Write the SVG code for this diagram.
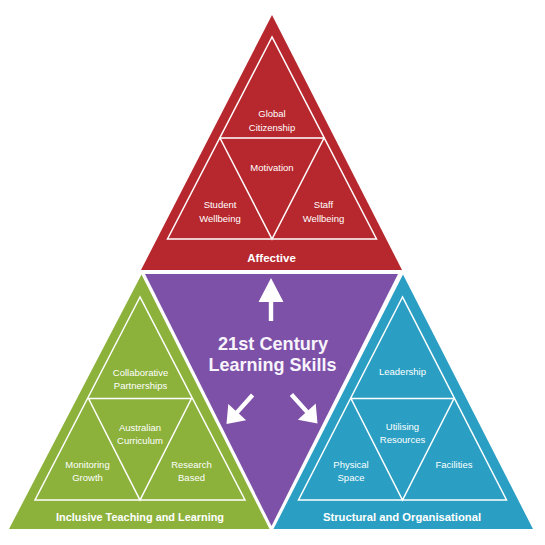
<svg xmlns="http://www.w3.org/2000/svg" width="545" height="545" viewBox="0 0 545 545">
<defs>
<style>
.lbl{font-family:"Liberation Sans",Arial,sans-serif;font-size:9.5px;fill:#ffffff;text-anchor:middle}
.ttl{font-family:"Liberation Sans",Arial,sans-serif;font-size:11px;font-weight:bold;fill:#ffffff;text-anchor:middle}
.big{font-family:"Liberation Sans",Arial,sans-serif;font-size:18.5px;font-weight:bold;fill:#f8f4fc;text-anchor:middle}
.inner{fill:none;stroke:#ffffff;stroke-width:1.5;stroke-linejoin:miter}
.arrow{fill:#ffffff}
</style>
<path id="upArrow" d="M0,0 L12.5,24 L2.2,24 L2.2,43 L-2.2,43 L-2.2,24 L-12.5,24 Z"/>
<path id="diagArrow" d="M0,0 L12,16 L2.2,16 L2.2,39 L-2.2,39 L-2.2,16 L-12,16 Z"/>
</defs>
<rect width="545" height="545" fill="#ffffff"/>

<g id="affective">
<polygon points="272,15 141,270 402,270" fill="#b7282e"/>
<path class="inner" d="M272,37 L167.5,239 L376.5,239 Z M220,138 L324,138 L272,239 Z"/>
<text class="lbl" x="272" y="117">Global</text>
<text class="lbl" x="272" y="130.5">Citizenship</text>
<text class="lbl" x="272" y="170.5">Motivation</text>
<text class="lbl" x="220" y="208">Student</text>
<text class="lbl" x="220" y="222">Wellbeing</text>
<text class="lbl" x="323.5" y="208">Staff</text>
<text class="lbl" x="323.5" y="222">Wellbeing</text>
<text class="ttl" x="271.5" y="261.5" style="font-size:11.5px">Affective</text>
</g>

<g id="core">
<polygon points="145,274 398,274 271.5,526" fill="#7d51a8"/>
<text class="big" x="273" y="350" textLength="110" lengthAdjust="spacingAndGlyphs">21st Century</text>
<text class="big" x="272.5" y="370.5" textLength="128" lengthAdjust="spacingAndGlyphs">Learning Skills</text>
</g>

<g id="inclusive">
<polygon points="141.5,274.5 9,529 269.5,529" fill="#8cb23c"/>
<path class="inner" d="M140,297 L35,500 L245,500 Z M88.5,398.5 L191.5,398.5 L140,500 Z"/>
<text class="lbl" x="140.5" y="376">Collaborative</text>
<text class="lbl" x="140.5" y="388.5">Partnerships</text>
<text class="lbl" x="140" y="430.5">Australian</text>
<text class="lbl" x="140" y="443.5">Curriculum</text>
<text class="lbl" x="87.5" y="467.5">Monitoring</text>
<text class="lbl" x="87.5" y="480.5">Growth</text>
<text class="lbl" x="191.5" y="467.5">Research</text>
<text class="lbl" x="191.5" y="480.5">Based</text>
<text class="ttl" x="140" y="521" textLength="168" lengthAdjust="spacingAndGlyphs">Inclusive Teaching and Learning</text>
</g>

<g id="structural">
<polygon points="403,274.5 273.5,529 533,529" fill="#2a9fc3"/>
<path class="inner" d="M402.5,297 L298.5,500 L506.5,500 Z M351,398.5 L454,398.5 L402.5,500 Z"/>
<text class="lbl" x="402.5" y="375">Leadership</text>
<text class="lbl" x="402.5" y="429.5">Utilising</text>
<text class="lbl" x="402.5" y="442.5">Resources</text>
<text class="lbl" x="351" y="467.5">Physical</text>
<text class="lbl" x="351" y="480.5">Space</text>
<text class="lbl" x="454" y="467.5">Facilities</text>
<text class="ttl" x="402" y="521" textLength="158" lengthAdjust="spacingAndGlyphs">Structural and Organisational</text>
</g>

<g id="connectors">
<use href="#upArrow" class="arrow" transform="translate(271,278)"/>
<use href="#diagArrow" class="arrow" transform="translate(226.5,424) rotate(-138)"/>
<use href="#diagArrow" class="arrow" transform="translate(317.5,423.5) rotate(138)"/>
</g>
</svg>
